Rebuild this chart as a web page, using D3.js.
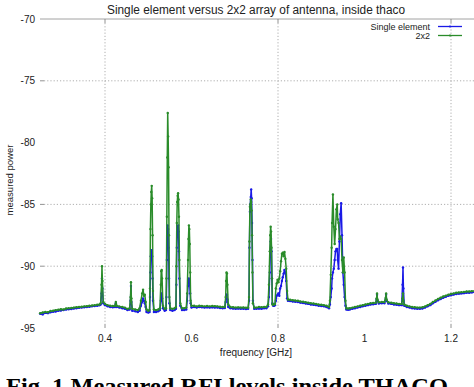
<!DOCTYPE html>
<html><head><meta charset="utf-8">
<script src="https://cdn.jsdelivr.net/npm/d3@7"></script>
<style>
html,body{margin:0;padding:0;background:#fff;}
svg{display:block;font-family:"Liberation Sans",Arial,sans-serif;}
</style></head>
<body>
<svg id="chart" width="474" height="387"></svg>
<script>
// ---- data ----
const title = "Single element versus 2x2 array of antenna, inside thaco";
const xLabel = "frequency [GHz]";
const yLabel = "measured power";
const caption = "Fig. 1 Measured RFI levels inside THACO";
const seriesNames = ["Single element", "2x2"];
const xTicks = [0.4, 0.6, 0.8, 1, 1.2];
const xTickLabels = ["0.4", "0.6", "0.8", "1", "1.2"];
const xGrid = [0.4, 0.8, 1.2];
const yTicks = [-70, -75, -80, -85, -90, -95];
const yGrid = [-75, -85, -90];

const freq = [
0.250,0.256,0.262,0.268,0.274,0.280,0.286,0.292,0.298,0.304,0.310,0.316,0.322,0.328,0.334,0.340,0.346,0.352,0.358,0.364,
0.370,0.376,0.382,0.387,0.390,0.392,0.393,0.394,0.396,0.400,0.406,0.412,0.418,0.423,0.425,0.427,0.433,0.440,0.446,0.452,
0.457,0.459,0.460,0.461,0.463,0.470,0.476,0.480,0.483,0.486,0.488,0.490,0.492,0.494,0.496,0.500,0.503,0.504,0.505,0.506,
0.507,0.508,0.509,0.510,0.511,0.513,0.518,0.523,0.527,0.529,0.530,0.531,0.532,0.534,0.538,0.541,0.542,0.543,0.544,0.545,
0.546,0.547,0.548,0.549,0.551,0.556,0.561,0.564,0.565,0.566,0.567,0.568,0.569,0.570,0.571,0.572,0.574,0.578,0.583,0.588,
0.590,0.592,0.593,0.594,0.595,0.596,0.597,0.598,0.600,0.606,0.612,0.618,0.624,0.630,0.636,0.642,0.648,0.654,0.660,0.666,
0.672,0.677,0.679,0.680,0.681,0.682,0.683,0.685,0.690,0.696,0.702,0.708,0.714,0.720,0.726,0.731,0.733,0.734,0.735,0.736,
0.737,0.738,0.739,0.740,0.741,0.742,0.745,0.750,0.756,0.762,0.768,0.773,0.777,0.779,0.781,0.782,0.783,0.784,0.785,0.786,
0.787,0.789,0.791,0.793,0.795,0.797,0.799,0.801,0.803,0.805,0.807,0.809,0.811,0.813,0.815,0.817,0.819,0.821,0.823,0.828,
0.834,0.840,0.846,0.852,0.858,0.864,0.870,0.876,0.882,0.888,0.894,0.900,0.906,0.912,0.918,0.920,0.922,0.924,0.925,0.927,
0.929,0.931,0.933,0.935,0.937,0.938,0.940,0.942,0.944,0.946,0.948,0.950,0.952,0.954,0.956,0.958,0.962,0.966,0.972,0.978,
0.984,0.990,0.996,1.002,1.008,1.014,1.020,1.026,1.028,1.029,1.030,1.033,1.040,1.046,1.049,1.050,1.051,1.055,1.062,1.068,
1.074,1.080,1.086,1.088,1.089,1.090,1.092,1.098,1.104,1.110,1.116,1.122,1.128,1.134,1.140,1.146,1.152,1.158,1.164,1.170,
1.176,1.182,1.188,1.194,1.200,1.206,1.212,1.218,1.224,1.230,1.236,1.242,1.248,1.255
];

const array2x2 = [
-93.80,-93.75,-93.70,-93.72,-93.62,-93.60,-93.55,-93.52,-93.48,-93.50,-93.42,-93.40,-93.38,-93.35,-93.32,-93.30,-93.28,-93.25,-93.24,-93.20,
-93.18,-93.15,-93.12,-93.10,-93.00,-91.50,-90.00,-91.20,-92.90,-93.05,-93.15,-93.20,-93.22,-93.20,-92.90,-93.20,-93.25,-93.30,-93.35,-93.45,
-93.40,-92.50,-91.30,-92.60,-93.45,-93.50,-93.55,-93.40,-92.80,-92.20,-91.90,-92.40,-92.30,-92.90,-93.50,-93.60,-93.55,-91.80,-87.00,-85.00,
-84.00,-83.50,-84.50,-87.50,-92.00,-93.50,-93.55,-93.50,-93.40,-91.50,-90.40,-90.30,-91.00,-93.20,-93.45,-93.40,-91.00,-86.00,-81.20,-77.60,
-79.50,-82.00,-87.50,-92.50,-93.40,-93.45,-93.40,-93.30,-90.00,-86.50,-84.80,-84.30,-84.10,-84.60,-86.00,-89.50,-93.00,-93.40,-93.40,-93.35,
-92.20,-89.50,-87.80,-86.70,-87.00,-88.20,-90.50,-92.80,-93.20,-93.20,-93.25,-93.20,-93.22,-93.25,-93.22,-93.25,-93.22,-93.24,-93.25,-93.28,
-93.30,-93.28,-92.50,-91.20,-90.50,-90.60,-91.50,-93.10,-93.30,-93.32,-93.35,-93.33,-93.35,-93.34,-93.36,-93.35,-92.50,-88.00,-85.20,-85.00,
-84.60,-84.80,-85.50,-87.50,-90.50,-93.00,-93.35,-93.35,-93.30,-93.32,-93.30,-93.30,-93.10,-91.50,-88.80,-87.50,-86.80,-87.20,-88.50,-91.00,
-93.10,-93.10,-93.10,-93.05,-91.80,-91.40,-91.10,-91.30,-91.00,-90.40,-89.60,-89.00,-88.90,-89.20,-88.85,-89.40,-90.20,-92.00,-92.70,-92.72,
-92.75,-92.78,-92.80,-92.85,-92.88,-92.92,-92.95,-93.00,-93.02,-93.05,-93.10,-93.12,-93.15,-93.20,-93.30,-92.80,-90.70,-88.50,-86.50,-84.20,
-86.80,-88.20,-87.00,-85.40,-85.00,-86.20,-86.50,-87.80,-87.60,-87.80,-89.50,-90.50,-89.30,-90.50,-92.80,-93.40,-93.42,-93.40,-93.35,-93.30,
-93.25,-93.20,-93.15,-93.10,-93.05,-93.00,-92.98,-92.95,-92.60,-92.20,-92.70,-92.92,-92.90,-92.90,-92.55,-92.20,-92.70,-92.92,-92.95,-93.00,
-93.02,-93.05,-93.05,-92.60,-92.20,-92.80,-93.10,-93.20,-93.25,-93.30,-93.32,-93.35,-93.35,-93.32,-93.25,-93.15,-93.05,-92.90,-92.78,-92.65,
-92.55,-92.45,-92.38,-92.30,-92.25,-92.20,-92.15,-92.12,-92.10,-92.08,-92.05,-92.05,-92.02,-92.00
];

const singleElement = [
-93.85,-93.90,-93.78,-93.80,-93.72,-93.68,-93.66,-93.60,-93.58,-93.55,-93.50,-93.48,-93.46,-93.42,-93.40,-93.36,-93.34,-93.32,-93.30,-93.28,
-93.24,-93.22,-93.20,-93.16,-93.10,-92.20,-91.00,-91.80,-93.00,-93.15,-93.25,-93.30,-93.32,-93.30,-93.00,-93.30,-93.35,-93.40,-93.45,-93.55,
-93.50,-92.80,-91.60,-92.90,-93.60,-93.65,-93.70,-93.60,-93.20,-92.90,-92.60,-92.80,-93.00,-93.30,-93.70,-93.75,-93.70,-92.50,-90.50,-89.20,
-88.80,-88.70,-89.20,-91.00,-92.80,-93.70,-93.70,-93.65,-93.55,-92.80,-92.30,-92.20,-92.60,-93.40,-93.60,-93.55,-92.50,-89.50,-88.00,-86.70,
-87.00,-88.50,-91.00,-93.00,-93.55,-93.60,-93.55,-93.45,-91.50,-88.50,-87.50,-86.80,-86.70,-87.20,-88.80,-91.00,-93.20,-93.55,-93.55,-93.50,
-92.80,-91.60,-91.20,-91.00,-91.10,-91.50,-92.20,-93.00,-93.35,-93.30,-93.35,-93.30,-93.32,-93.35,-93.32,-93.35,-93.32,-93.34,-93.35,-93.38,
-93.40,-93.38,-92.90,-92.40,-92.30,-92.30,-92.70,-93.30,-93.40,-93.42,-93.45,-93.43,-93.45,-93.44,-93.46,-93.45,-92.80,-88.50,-85.60,-85.00,
-84.40,-83.80,-84.50,-86.50,-89.50,-92.80,-93.45,-93.45,-93.42,-93.44,-93.40,-93.40,-93.25,-92.50,-90.50,-88.80,-88.00,-87.80,-88.80,-91.00,
-93.00,-93.20,-93.20,-93.15,-92.80,-92.40,-92.30,-92.20,-92.40,-91.80,-91.60,-91.20,-90.90,-90.60,-90.30,-90.50,-91.20,-92.60,-92.80,-92.82,
-92.85,-92.88,-92.90,-92.95,-92.98,-93.02,-93.05,-93.10,-93.12,-93.15,-93.20,-93.22,-93.25,-93.30,-93.40,-93.10,-92.50,-91.80,-91.00,-90.50,
-90.20,-89.50,-88.80,-88.60,-88.60,-89.50,-90.20,-88.00,-85.80,-84.90,-87.50,-90.50,-91.50,-92.50,-93.20,-93.50,-93.52,-93.50,-93.45,-93.40,
-93.35,-93.30,-93.25,-93.20,-93.15,-93.10,-93.08,-93.05,-92.70,-92.30,-92.80,-93.02,-93.00,-93.00,-92.65,-92.30,-92.80,-93.02,-93.05,-93.10,
-93.12,-93.15,-93.15,-91.50,-90.10,-91.80,-93.20,-93.30,-93.35,-93.40,-93.42,-93.45,-93.45,-93.42,-93.35,-93.25,-93.15,-93.00,-92.88,-92.75,
-92.65,-92.55,-92.48,-92.40,-92.35,-92.30,-92.25,-92.22,-92.20,-92.18,-92.15,-92.15,-92.12,-92.10
];

const colors = ["#1a1ae6", "#2a8c2a"];

// ---- drawing ----
const svg = d3.select("#chart");
const plotLeft = 40, plotRight = 474, plotTop = 19, plotBottom = 328;

const x = d3.scaleLinear().domain([0.4, 1.2]).range([105, 451]);
const y = d3.scaleLinear().domain([-95, -70]).range([plotBottom, plotTop]);

const g = svg.append("g");

// horizontal grid
g.selectAll(".hgrid").data(yGrid).join("line")
  .attr("x1", plotLeft + 4).attr("x2", plotRight)
  .attr("y1", d => y(d)).attr("y2", d => y(d))
  .attr("stroke", "#9a9a9a").attr("stroke-width", 0.8).attr("stroke-dasharray", "1.2,2");
// y tick marks
g.selectAll(".ytm").data(yGrid).join("line")
  .attr("x1", plotLeft).attr("x2", plotLeft + 4)
  .attr("y1", d => y(d)).attr("y2", d => y(d))
  .attr("stroke", "#777").attr("stroke-width", 0.8);
// top line at -70
g.append("line").attr("x1", plotLeft).attr("x2", plotRight)
  .attr("y1", y(-70)).attr("y2", y(-70))
  .attr("stroke", "#8a8a8a").attr("stroke-width", 0.8);

// vertical grid
g.selectAll(".vgrid").data(xGrid).join("line")
  .attr("x1", d => x(d)).attr("x2", d => x(d))
  .attr("y1", plotTop + 4).attr("y2", plotBottom - 4)
  .attr("stroke", "#9a9a9a").attr("stroke-width", 0.8).attr("stroke-dasharray", "1.2,2");
g.selectAll(".vtt").data(xGrid).join("line")
  .attr("x1", d => x(d)).attr("x2", d => x(d))
  .attr("y1", plotTop).attr("y2", plotTop + 4)
  .attr("stroke", "#777").attr("stroke-width", 0.8);
g.selectAll(".vtb").data(xGrid).join("line")
  .attr("x1", d => x(d)).attr("x2", d => x(d))
  .attr("y1", plotBottom - 4).attr("y2", plotBottom)
  .attr("stroke", "#777").attr("stroke-width", 0.8);

// y tick labels
g.selectAll(".ylab").data(yTicks).join("text")
  .attr("x", 35).attr("y", d => y(d) + 3.5)
  .attr("text-anchor", "end").attr("font-size", 10).attr("fill", "#222")
  .text(d => d);
// x tick labels
g.selectAll(".xlab").data(xTicks).join("text")
  .attr("x", d => x(d)).attr("y", 342)
  .attr("text-anchor", "middle").attr("font-size", 10).attr("fill", "#222")
  .text((d, i) => xTickLabels[i]);

// series
const series = [singleElement, array2x2];
const line = d3.line().x(d => x(d[0])).y(d => y(d[1]));
series.forEach((vals, si) => {
  const pts = freq.map((f, i) => [f, vals[i]]);
  g.append("path").datum(pts)
    .attr("fill", "none").attr("stroke", colors[si]).attr("stroke-width", 1.5)
    .attr("stroke-linejoin", "round")
    .attr("d", line);
  g.append("g").selectAll("circle").data(pts).join("circle")
    .attr("cx", d => x(d[0])).attr("cy", d => y(d[1])).attr("r", 1.2)
    .attr("fill", colors[si]);
});

// legend
const legY = [26.5, 35.5];
seriesNames.forEach((name, i) => {
  svg.append("text").attr("x", 430).attr("y", legY[i] + 3)
    .attr("text-anchor", "end").attr("font-size", 9).attr("fill", "#222").text(name);
  svg.append("line").attr("x1", 438).attr("x2", 462)
    .attr("y1", legY[i]).attr("y2", legY[i])
    .attr("stroke", colors[i]).attr("stroke-width", 1.3);
  svg.append("circle").attr("cx", 450).attr("cy", legY[i]).attr("r", 1.1).attr("fill", colors[i]);
});

// title
svg.append("text").attr("x", 256).attr("y", 14)
  .attr("text-anchor", "middle").attr("font-size", 12).attr("fill", "#222")
  .attr("textLength", 298).attr("lengthAdjust", "spacingAndGlyphs")
  .text(title);
// axis labels
svg.append("text").attr("x", 256).attr("y", 356)
  .attr("text-anchor", "middle").attr("font-size", 10).attr("fill", "#222").text(xLabel);
svg.append("text").attr("transform", "translate(13,180) rotate(-90)")
  .attr("text-anchor", "middle").attr("font-size", 9.5).attr("fill", "#222").text(yLabel);
// caption (cut at the bottom edge, as in the reference)
svg.append("text").attr("x", 6).attr("y", 394)
  .attr("font-family", "'Liberation Serif','Times New Roman',serif")
  .attr("font-weight", "bold").attr("font-size", 24).attr("fill", "#000")
  .attr("textLength", 442).attr("lengthAdjust", "spacingAndGlyphs")
  .text(caption);
</script>
</body></html>
